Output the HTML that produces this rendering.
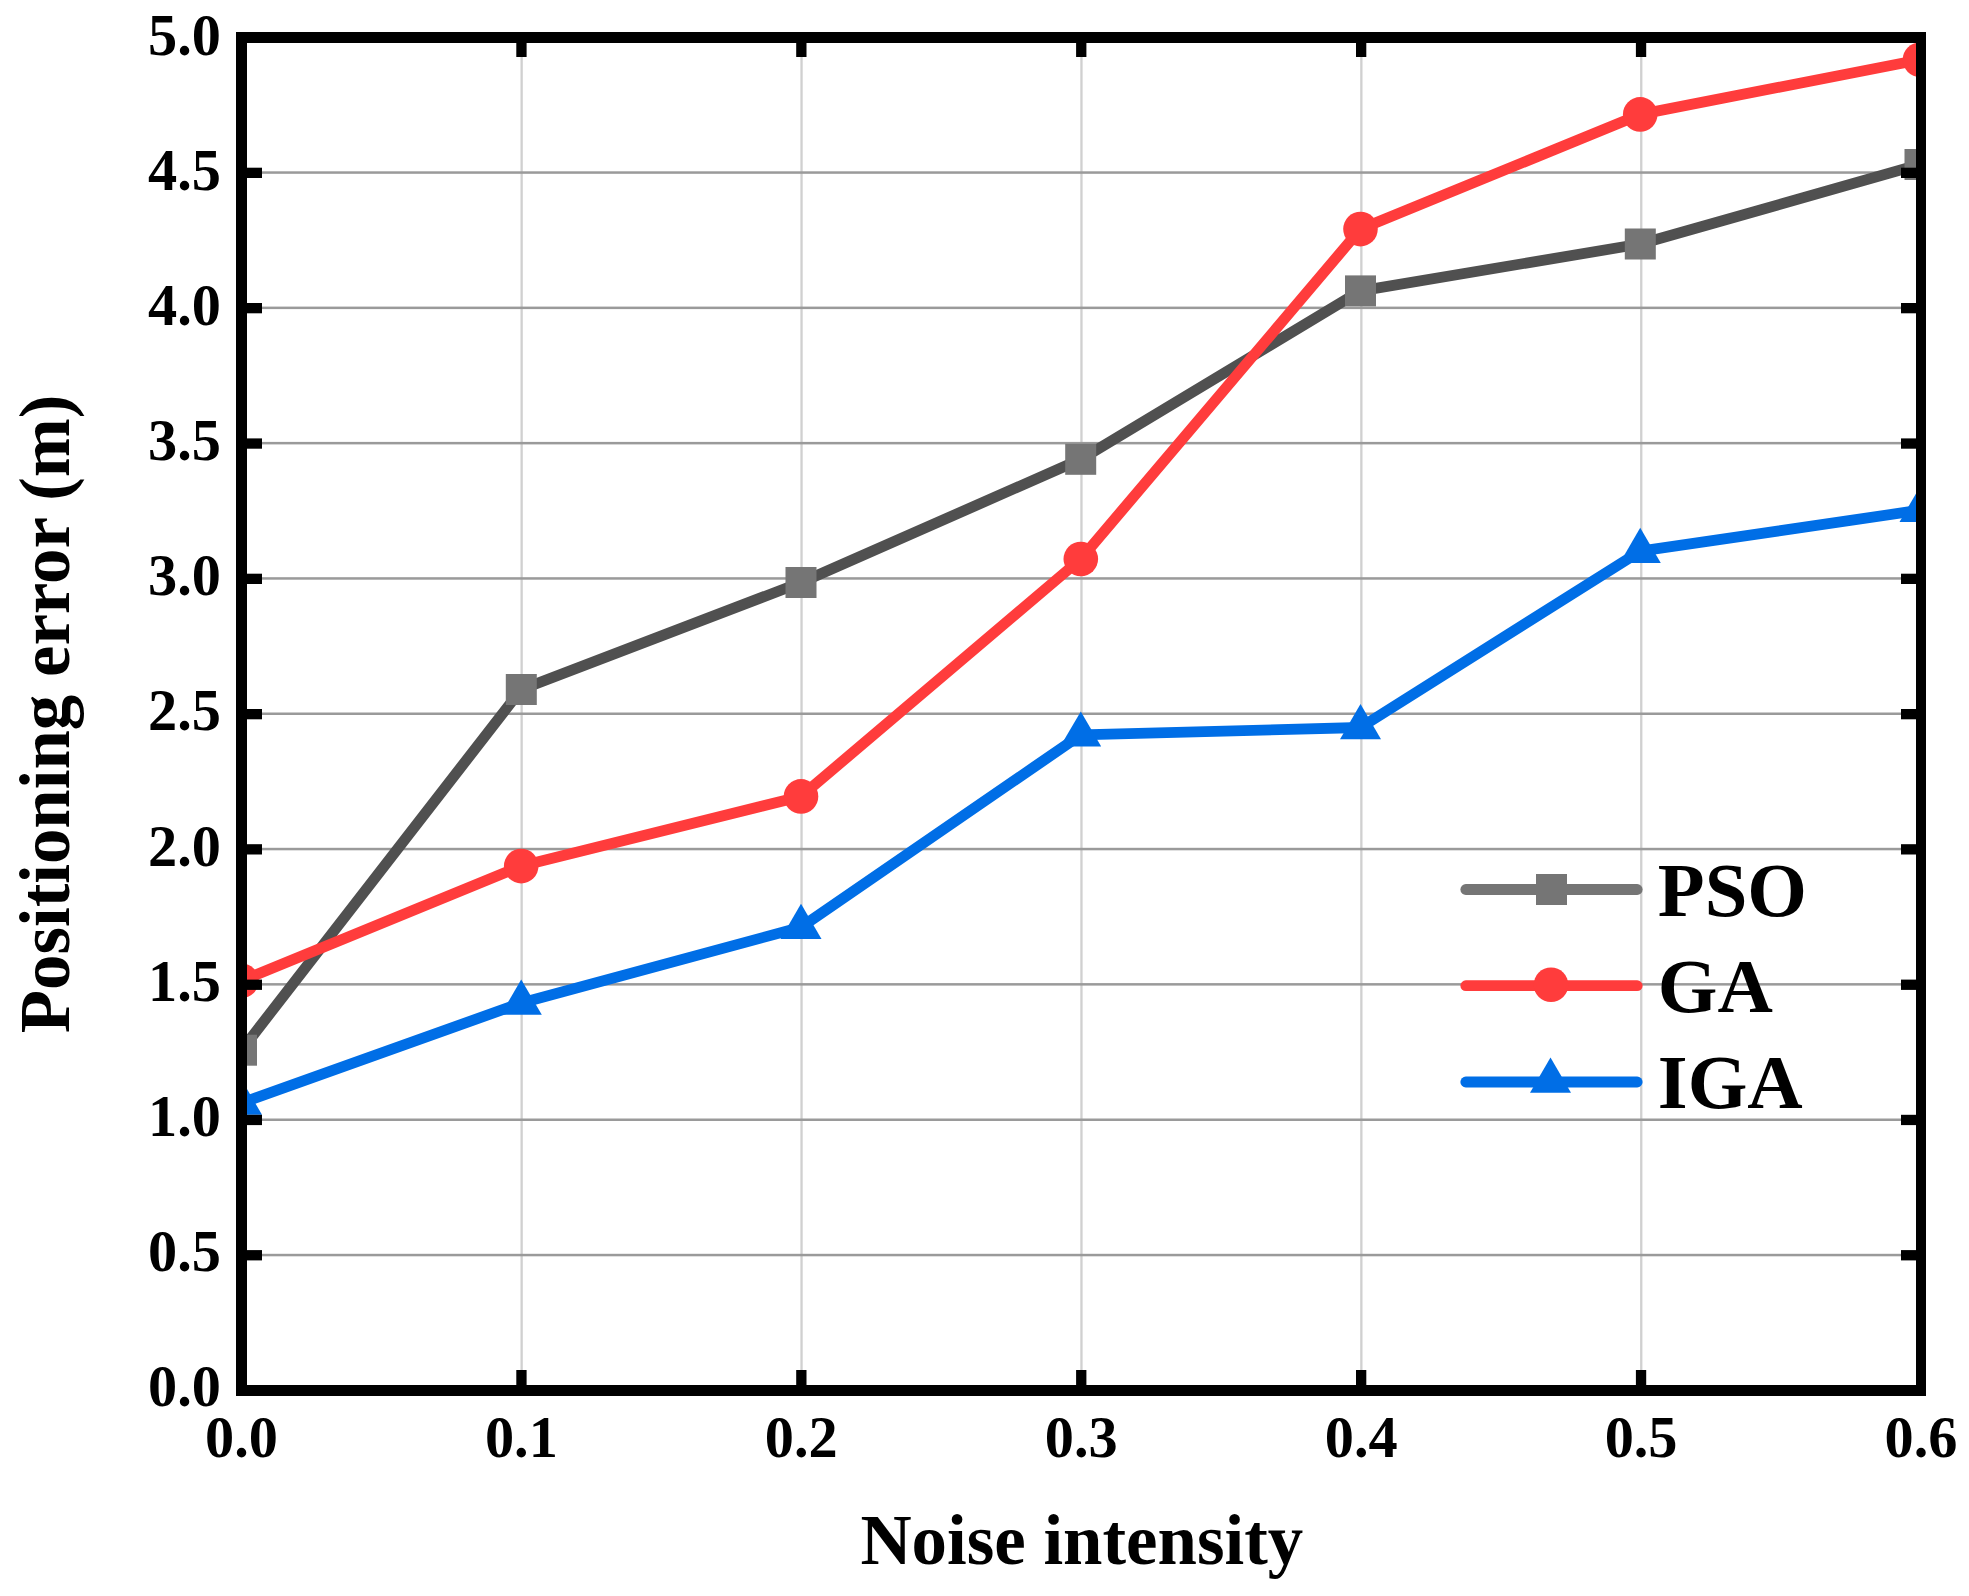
<!DOCTYPE html>
<html lang="en"><head><meta charset="utf-8"><title>Positioning error vs noise intensity</title>
<style>html,body{margin:0;padding:0;background:#fff}body{width:1969px;height:1596px;overflow:hidden}svg{display:block}text{font-family:"Liberation Serif","Times New Roman",serif;font-weight:bold;fill:#000}.tk{font-size:58.33px}.ax{font-size:70.83px}.lg{font-size:76.7px}</style></head><body>
<svg width="1969" height="1596" viewBox="0 0 1969 1596">
<rect width="1969" height="1596" fill="#fff"/>
<defs><clipPath id="cp"><rect x="241.5" y="37.5" width="1679.5" height="1353.0"/></clipPath></defs>
<g><rect x="520.5" y="37.5" width="2.3" height="1353.0" fill="#d0d0d0"/><rect x="800.4" y="37.5" width="2.3" height="1353.0" fill="#d0d0d0"/><rect x="1080.3" y="37.5" width="2.3" height="1353.0" fill="#d0d0d0"/><rect x="1360.2" y="37.5" width="2.3" height="1353.0" fill="#d0d0d0"/><rect x="1640.1" y="37.5" width="2.3" height="1353.0" fill="#d0d0d0"/><rect x="241.5" y="1253.8" width="1679.5" height="2.5" fill="#9a9a9a"/><rect x="241.5" y="1118.5" width="1679.5" height="2.5" fill="#9a9a9a"/><rect x="241.5" y="983.1" width="1679.5" height="2.5" fill="#9a9a9a"/><rect x="241.5" y="847.8" width="1679.5" height="2.5" fill="#9a9a9a"/><rect x="241.5" y="712.5" width="1679.5" height="2.5" fill="#9a9a9a"/><rect x="241.5" y="577.2" width="1679.5" height="2.5" fill="#9a9a9a"/><rect x="241.5" y="441.9" width="1679.5" height="2.5" fill="#9a9a9a"/><rect x="241.5" y="306.6" width="1679.5" height="2.5" fill="#9a9a9a"/><rect x="241.5" y="171.3" width="1679.5" height="2.5" fill="#9a9a9a"/></g>
<g clip-path="url(#cp)"><polyline points="241.5,1050.2 521.2,689.5 801.0,582.5 1080.8,459.3 1360.5,290.9 1640.2,244.0 1920.0,164.5" fill="none" stroke="#505050" stroke-width="10.8" stroke-linejoin="round"/><rect x="226.0" y="1034.7" width="31" height="31" fill="#757575"/><rect x="505.8" y="674.0" width="31" height="31" fill="#757575"/><rect x="785.5" y="567.0" width="31" height="31" fill="#757575"/><rect x="1065.2" y="443.8" width="31" height="31" fill="#757575"/><rect x="1345.0" y="275.4" width="31" height="31" fill="#757575"/><rect x="1624.8" y="228.5" width="31" height="31" fill="#757575"/><rect x="1904.5" y="149.0" width="31" height="31" fill="#757575"/><polyline points="241.5,980.7 521.2,866.1 801.0,796.4 1080.8,559.0 1360.5,229.1 1640.2,114.4 1920.0,59.7" fill="none" stroke="#ff3c3c" stroke-width="10.8" stroke-linejoin="round"/><circle cx="241.5" cy="980.7" r="17.3" fill="#ff3c3c"/><circle cx="521.2" cy="866.1" r="17.3" fill="#ff3c3c"/><circle cx="801.0" cy="796.4" r="17.3" fill="#ff3c3c"/><circle cx="1080.8" cy="559.0" r="17.3" fill="#ff3c3c"/><circle cx="1360.5" cy="229.1" r="17.3" fill="#ff3c3c"/><circle cx="1640.2" cy="114.4" r="17.3" fill="#ff3c3c"/><circle cx="1920.0" cy="59.7" r="17.3" fill="#ff3c3c"/><polyline points="241.5,1103.0 521.2,1003.0 801.0,927.2 1080.8,734.9 1360.5,727.5 1640.2,551.2 1920.0,510.2" fill="none" stroke="#006ee6" stroke-width="10.8" stroke-linejoin="round"/><polygon points="241.5,1079.6 221.0,1114.7 262.0,1114.7" fill="#006ee6"/><polygon points="521.2,979.6 500.8,1014.7 541.8,1014.7" fill="#006ee6"/><polygon points="801.0,903.8 780.5,938.9 821.5,938.9" fill="#006ee6"/><polygon points="1080.8,711.5 1060.2,746.6 1101.2,746.6" fill="#006ee6"/><polygon points="1360.5,704.1 1340.0,739.2 1381.0,739.2" fill="#006ee6"/><polygon points="1640.2,527.8 1619.8,562.9 1660.8,562.9" fill="#006ee6"/><polygon points="1920.0,486.8 1899.5,521.9 1940.5,521.9" fill="#006ee6"/></g>
<g fill="#000"><rect x="516.3" y="37.5" width="10.3" height="19.5"/><rect x="516.3" y="1370.0" width="10.3" height="20.5"/><rect x="796.2" y="37.5" width="10.3" height="19.5"/><rect x="796.2" y="1370.0" width="10.3" height="20.5"/><rect x="1076.1" y="37.5" width="10.3" height="19.5"/><rect x="1076.1" y="1370.0" width="10.3" height="20.5"/><rect x="1356.0" y="37.5" width="10.3" height="19.5"/><rect x="1356.0" y="1370.0" width="10.3" height="20.5"/><rect x="1635.9" y="37.5" width="10.3" height="19.5"/><rect x="1635.9" y="1370.0" width="10.3" height="20.5"/><rect x="241.5" y="1250.1" width="20.5" height="10.3"/><rect x="1901.0" y="1250.1" width="20.0" height="10.3"/><rect x="241.5" y="1114.8" width="20.5" height="10.3"/><rect x="1901.0" y="1114.8" width="20.0" height="10.3"/><rect x="241.5" y="979.6" width="20.5" height="10.3"/><rect x="1901.0" y="979.6" width="20.0" height="10.3"/><rect x="241.5" y="844.2" width="20.5" height="10.3"/><rect x="1901.0" y="844.2" width="20.0" height="10.3"/><rect x="241.5" y="709.0" width="20.5" height="10.3"/><rect x="1901.0" y="709.0" width="20.0" height="10.3"/><rect x="241.5" y="573.7" width="20.5" height="10.3"/><rect x="1901.0" y="573.7" width="20.0" height="10.3"/><rect x="241.5" y="438.4" width="20.5" height="10.3"/><rect x="1901.0" y="438.4" width="20.0" height="10.3"/><rect x="241.5" y="303.0" width="20.5" height="10.3"/><rect x="1901.0" y="303.0" width="20.0" height="10.3"/><rect x="241.5" y="167.7" width="20.5" height="10.3"/><rect x="1901.0" y="167.7" width="20.0" height="10.3"/></g>
<rect x="241.5" y="37.5" width="1679.5" height="1353.0" fill="none" stroke="#000" stroke-width="10.8" shape-rendering="crispEdges"/>
<g class="tk"><text x="241.5" y="1456.8" text-anchor="middle">0.0</text><text x="521.4" y="1456.8" text-anchor="middle">0.1</text><text x="801.3" y="1456.8" text-anchor="middle">0.2</text><text x="1081.2" y="1456.8" text-anchor="middle">0.3</text><text x="1361.2" y="1456.8" text-anchor="middle">0.4</text><text x="1641.1" y="1456.8" text-anchor="middle">0.5</text><text x="1921.0" y="1456.8" text-anchor="middle">0.6</text><text x="220.9" y="1406.3" text-anchor="end">0.0</text><text x="220.9" y="1271.1" text-anchor="end">0.5</text><text x="220.9" y="1136.0" text-anchor="end">1.0</text><text x="220.9" y="1000.8" text-anchor="end">1.5</text><text x="220.9" y="865.6" text-anchor="end">2.0</text><text x="220.9" y="730.4" text-anchor="end">2.5</text><text x="220.9" y="595.3" text-anchor="end">3.0</text><text x="220.9" y="460.1" text-anchor="end">3.5</text><text x="220.9" y="324.9" text-anchor="end">4.0</text><text x="220.9" y="189.8" text-anchor="end">4.5</text><text x="220.9" y="54.6" text-anchor="end">5.0</text></g>
<text class="ax" x="1081.8" y="1564" text-anchor="middle">Noise intensity</text>
<text class="ax" transform="translate(68.9,713.9) rotate(-90)" text-anchor="middle">Positioning error (m)</text>
<g><line x1="1465.8" y1="889.5" x2="1637.2" y2="889.5" stroke="#757575" stroke-width="10.8" stroke-linecap="round"/><line x1="1465.8" y1="985.7" x2="1637.2" y2="985.7" stroke="#ff3c3c" stroke-width="10.8" stroke-linecap="round"/><line x1="1465.8" y1="1082.0" x2="1637.2" y2="1082.0" stroke="#006ee6" stroke-width="10.8" stroke-linecap="round"/><rect x="1536" y="874.0" width="31" height="31" fill="#757575"/><circle cx="1551" cy="984.8" r="17.3" fill="#ff3c3c"/><polygon points="1550.5,1057.6 1530.0,1092.7 1571.0,1092.7" fill="#006ee6"/><text class="lg" x="1657.8" y="915.9">PSO</text><text class="lg" x="1657.8" y="1012.3">GA</text><text class="lg" x="1657.8" y="1108.3">IGA</text></g>
</svg></body></html>
